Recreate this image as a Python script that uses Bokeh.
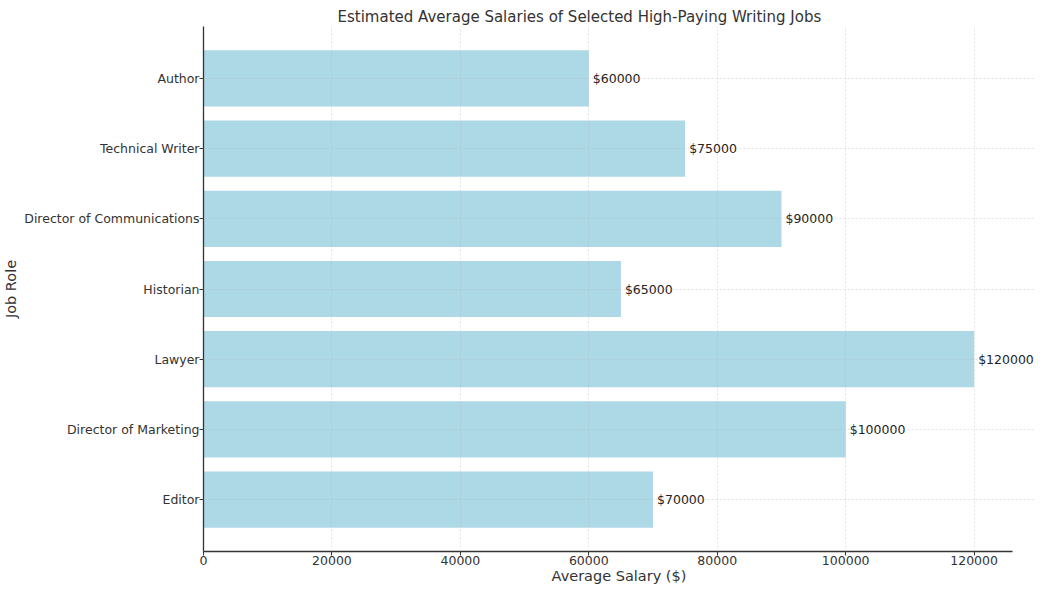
from bokeh.plotting import figure
from bokeh.models import ColumnDataSource, Range1d, FactorRange, FixedTicker, LabelSet, NumeralTickFormatter
from bokeh.core.properties import value
from bokeh.embed import file_html
from bokeh.resources import INLINE

roles = ["Editor", "Director of Marketing", "Lawyer", "Historian",
         "Director of Communications", "Technical Writer", "Author"]
salaries = [70000, 100000, 120000, 65000, 90000, 75000, 60000]
x_ticks = [0, 20000, 40000, 60000, 80000, 100000, 120000]
x_axis_end = 126000

title = "Estimated Average Salaries of Selected High-Paying Writing Jobs"
x_label = "Average Salary ($)"
y_label = "Job Role"

FONT = "DejaVu Sans"
TXT = "#333333"

src = ColumnDataSource(dict(role=roles, salary=salaries,
                            label=["$" + str(s) for s in salaries]))

p = figure(
    y_range=FactorRange(factors=roles, range_padding=0.24, range_padding_units="absolute"),
    x_range=Range1d(0, 129400),
    frame_width=831, frame_height=525,
    min_border_left=195, min_border_right=0, min_border_top=26, min_border_bottom=35,
    output_backend="svg", toolbar_location=None,
    background_fill_color="white", border_fill_color="white",
)
p.outline_line_color = None

p.title.text = title
p.title.align = "left"
p.title.offset = 134
p.title.text_font = FONT
p.title.text_font_size = "15px"
p.title.text_font_style = "normal"
p.title.text_color = TXT
p.title.standoff = 2

p.hbar(y="role", right="salary", left=0, height=0.8, source=src,
       fill_color="#ADD8E6", line_color=None)

labels = LabelSet(x="salary", y="role", text="label", source=src,
                  x_offset=4, text_baseline="middle", text_align="left",
                  text_font=value(FONT), text_font_size="12.5px", text_color="#222222")
p.add_layout(labels)

for ax in (p.xaxis[0], p.yaxis[0]):
    ax.axis_line_color = "#333333"
    ax.axis_line_width = 1.3
    ax.major_tick_line_color = "#333333"
    ax.major_tick_in = 0
    ax.major_tick_out = 4
    ax.minor_tick_line_color = None
    ax.major_label_text_font = FONT
    ax.major_label_text_font_size = "12.5px"
    ax.major_label_text_color = TXT
    ax.axis_label_text_font = FONT
    ax.axis_label_text_font_size = "14.5px"
    ax.axis_label_text_font_style = "normal"
    ax.axis_label_text_color = TXT

p.xaxis.ticker = FixedTicker(ticks=x_ticks)
p.xaxis.formatter = NumeralTickFormatter(format="0")
p.xaxis.bounds = (0, x_axis_end)
p.xaxis.axis_label = x_label
p.xaxis.major_label_standoff = 0
p.xaxis.axis_label_standoff = 0
p.yaxis.axis_label = y_label
p.yaxis.major_label_standoff = 0
p.yaxis.axis_label_standoff = 2

for g in (p.xgrid[0], p.ygrid[0]):
    g.grid_line_color = "#b0b0b0"
    g.grid_line_alpha = 0.45
    g.grid_line_dash = "2 2"
    g.grid_line_width = 0.8
    g.level = "overlay"
p.ygrid[0].bounds = (0, x_axis_end)

open("out.html", "w").write(file_html(p, INLINE))
